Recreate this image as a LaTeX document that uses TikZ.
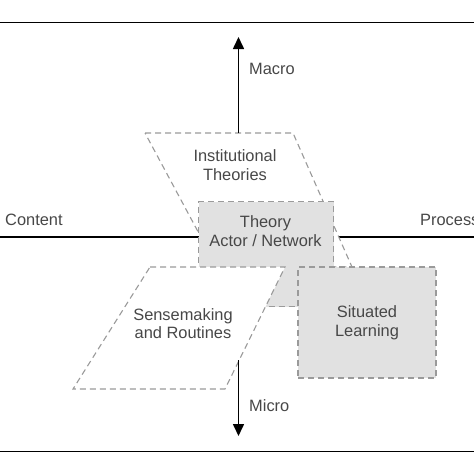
\documentclass[tikz,border=0pt]{standalone}
\usepackage{fontspec}
\setmainfont{Liberation Sans}
\usetikzlibrary{arrows.meta}

\definecolor{txtgray}{HTML}{474747}
\definecolor{dashgray}{HTML}{9A9A9A}
\definecolor{boxgray}{HTML}{E1E1E1}

\tikzset{
  axisline/.style={line width=1.6pt, black},
  dashbox/.style={draw=dashgray, line width=1.1pt, dash pattern=on 6pt off 4pt},
  lbl/.style={text=txtgray, font=\fontsize{16.4}{18.7}\selectfont, align=center, inner sep=0pt},
  levelarrow/.style={-{Triangle[width=11pt,length=12pt]}, line width=1.6pt}
}

\begin{document}
\begin{tikzpicture}[x=1pt, y=-1pt]

        \useasboundingbox (0,0) rectangle (474,474);
        \clip (0,0) rectangle (474,474);

        % ------------------ Axes ------------------
        \draw[axisline] (0,22.5) -- (474,22.5);
        \draw[axisline] (0,237) -- (474,237);
        \draw[axisline] (0,451.5) -- (474,451.5);

        % Institutional Theories
        \draw[dashbox, fill=white] (145,133) -- (293,133) -- (352,267) -- (217,267) -- cycle;
        \node[lbl] (inst) at (235,165) {Institutional\\Theories};

        % Theory Actor / Network
        \node[dashbox, fill=boxgray, minimum width=135pt, minimum height=105pt, inner sep=0pt, anchor=north west] (theory) at (198,201) {};
        \node[lbl] (theorytext) at (265.5,231) {Theory\\Actor / Network};

        % Sensemaking and Routines
        \draw[dashbox, fill=white] (150,267) -- (285,267) -- (225,389) -- (73,389) -- cycle;
        \node[lbl] (sense) at (183,323.5) {Sensemaking\\and Routines};

        % Situated Learning
        \node[dashbox, lbl, fill=boxgray, minimum width=138pt, minimum height=111pt] (situated) at (367,322.5) {Situated\\Learning};

        % ------------------ Macro / Micro ------------------
        \coordinate (insttop) at (238.5,133);
        \coordinate (macrotip) at (238.5,37);
        \coordinate (senseedge) at (238.5,360);
        \coordinate (microtip) at (238.5,436);

        \draw[levelarrow] (insttop) -- (macrotip);
        \draw[levelarrow] (senseedge) -- (microtip);

        \node[lbl, anchor=west] (macro) at (249,68.5) {Macro};
        \node[lbl, anchor=west] (micro) at (249,405.5) {Micro};

        % Content / Process
        \node[lbl, anchor=west] (content) at (5,220) {Content};
        \node[lbl, anchor=west] (process) at (420,220) {Process};

\end{tikzpicture}
\end{document}
